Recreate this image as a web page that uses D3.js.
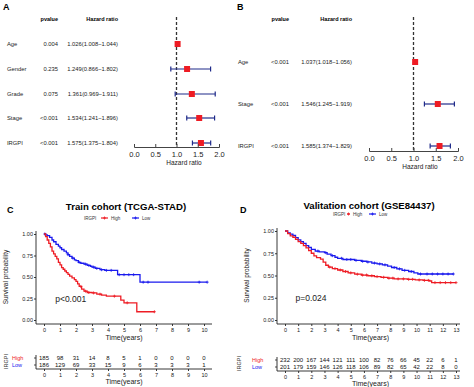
<html>
<head>
<meta charset="utf-8">
<script src="https://cdn.jsdelivr.net/npm/d3@7"></script>
<style>
  body { margin: 0; background: #fff; }
  svg text { font-family: "Liberation Sans", Arial, sans-serif; }
</style>
</head>
<body>
<svg id="chart" width="474" height="387"></svg>
<script>
// ---- forest plot data ----
var forestA_vars = ["Age", "Gender", "Grade", "Stage", "IRGPI"];
var forestA_p = ["0.004", "0.235", "0.075", "<0.001", "<0.001"];
var forestA_hr = [1.026, 1.249, 1.361, 1.534, 1.575];
var forestA_lo = [1.008, 0.866, 0.969, 1.241, 1.375];
var forestA_hi = [1.044, 1.802, 1.911, 1.896, 1.804];

var forestB_vars = ["Age", "Stage", "IRGPI"];
var forestB_p = ["<0.001", "<0.001", "<0.001"];
var forestB_hr = [1.037, 1.546, 1.585];
var forestB_lo = [1.018, 1.245, 1.374];
var forestB_hi = [1.056, 1.919, 1.829];

var forestTicks = [0, 0.5, 1, 1.5, 2];

// ---- KM data (time, survival) ----
var trainHigh = [[0,1],[0.1,0.97],[0.2,0.93],[0.3,0.89],[0.4,0.85],[0.5,0.80],[0.6,0.77],[0.7,0.74],[0.8,0.71],[0.9,0.67],[1,0.64],[1.1,0.61],[1.2,0.59],[1.3,0.57],[1.4,0.55],[1.5,0.53],[1.6,0.51],[1.75,0.49],[1.9,0.47],[2,0.45],[2.1,0.42],[2.2,0.39],[2.35,0.36],[2.5,0.335],[2.7,0.32],[3.0,0.315],[3.3,0.30],[3.6,0.29],[3.9,0.277],[4.8,0.23],[5.0,0.20],[5.8,0.096],[6.9,0.096]];
var trainLow = [[0,1],[0.1,0.99],[0.2,0.98],[0.35,0.96],[0.5,0.93],[0.6,0.91],[0.75,0.88],[0.9,0.86],[1,0.84],[1.1,0.82],[1.25,0.8],[1.4,0.78],[1.5,0.76],[1.6,0.74],[1.75,0.72],[1.9,0.70],[2,0.69],[2.15,0.67],[2.3,0.66],[2.5,0.65],[2.7,0.635],[2.9,0.625],[3.0,0.615],[3.2,0.6],[3.5,0.585],[3.8,0.577],[4.6,0.527],[6.0,0.44],[10.2,0.44]];
var trainHighCens = [2.3, 2.6, 2.8, 3.1, 3.5, 4.4, 5.2, 6.9];
var trainLowCens = [0.05, 1.5, 1.8, 2.2, 2.6, 2.8, 3.1, 3.3, 3.6, 3.9, 4.2, 4.7, 5.0, 5.3, 5.6, 6.2, 6.5, 9.7, 10.2];

var validHigh = [[0,1],[0.2,0.97],[0.4,0.945],[0.6,0.93],[0.8,0.905],[1,0.88],[1.2,0.86],[1.4,0.835],[1.6,0.81],[1.8,0.78],[2,0.75],[2.2,0.72],[2.4,0.70],[2.7,0.685],[2.9,0.65],[3.1,0.615],[3.3,0.595],[3.6,0.578],[4,0.562],[4.4,0.545],[4.8,0.53],[5.3,0.515],[5.8,0.505],[6.3,0.497],[6.8,0.488],[7.3,0.48],[7.8,0.47],[8.3,0.462],[9.3,0.457],[9.9,0.45],[10.5,0.445],[11,0.438],[11.15,0.42],[13,0.42]];
var validLow = [[0,1],[0.2,0.98],[0.4,0.965],[0.6,0.95],[0.8,0.925],[1,0.9],[1.2,0.88],[1.4,0.86],[1.6,0.835],[1.8,0.815],[2,0.794],[2.3,0.775],[2.6,0.765],[3,0.757],[3.2,0.74],[3.5,0.723],[3.8,0.705],[4,0.693],[4.4,0.68],[5.3,0.67],[5.8,0.66],[6.2,0.652],[6.6,0.64],[7,0.63],[7.4,0.62],[7.8,0.605],[8.1,0.59],[8.5,0.575],[8.9,0.558],[9.4,0.545],[9.8,0.53],[10.1,0.517],[12.8,0.517]];
var validHighCens = [3.4, 3.8, 4.2, 4.6, 5.0, 5.5, 5.9, 6.2, 6.6, 7.0, 7.5, 7.9, 8.2, 8.6, 9.0, 9.4, 9.7, 10.2, 10.6, 10.9, 11.4, 11.8, 12.2, 12.6, 13];
var validLowCens = [2.5, 3.1, 3.6, 4.3, 4.7, 5.0, 5.4, 5.9, 6.3, 6.8, 7.2, 7.6, 8.3, 8.7, 9.1, 9.6, 10.3, 10.8, 11.2, 11.6, 12.0, 12.4, 12.8];

var trainRiskHigh = [185, 98, 31, 14, 8, 5, 1, 0, 0, 0, 0];
var trainRiskLow = [186, 129, 69, 33, 15, 9, 6, 3, 3, 3, 1];
var validRiskHigh = [232, 200, 167, 144, 121, 111, 100, 82, 76, 66, 45, 22, 6, 1];
var validRiskLow = [201, 179, 159, 146, 126, 118, 106, 89, 82, 65, 42, 22, 8, 0];

var yTicks = [0, 0.25, 0.5, 0.75, 1];

var RED = "#ee1c24", BLUE = "#1a1aee", NAVY = "#1f2a8a";

var svg = d3.select("#chart");
svg.append("rect").attr("width", 474).attr("height", 387).attr("fill", "#fff");

function letter(x, y, t) {
  svg.append("text").attr("x", x).attr("y", y).attr("font-size", 9)
    .attr("font-weight", "bold").text(t);
}

// ---------- forest plot ----------
function forest(o) {
  var g = svg.append("g");
  var x = d3.scaleLinear().domain([0, 2]).range(o.xr);

  g.append("text").attr("x", o.pX).attr("y", o.headY).attr("text-anchor", "end")
    .attr("font-size", 5.5).attr("font-weight", "bold").text("pvalue");
  g.append("text").attr("x", o.hrX).attr("y", o.headY).attr("text-anchor", "end")
    .attr("font-size", 5.5).attr("font-weight", "bold").text("Hazard ratio");

  o.vars.forEach(function(v, i) {
    var y = o.rows[i];
    g.append("text").attr("x", o.labX).attr("y", y + 2).attr("font-size", 5.8)
      .attr("fill", "#222").text(v);
    g.append("text").attr("x", o.pX).attr("y", y + 2).attr("text-anchor", "end")
      .attr("font-size", 5.8).attr("fill", "#222").text(o.p[i]);
    g.append("text").attr("x", o.hrX).attr("y", y + 2).attr("text-anchor", "end")
      .attr("font-size", 5.8).attr("fill", "#222")
      .text(o.hr[i].toFixed(3) + "(" + o.lo[i].toFixed(3) + "\u2212" + o.hi[i].toFixed(3) + ")");
  });

  g.append("line").attr("x1", x(1)).attr("x2", x(1)).attr("y1", 17).attr("y2", o.axisY)
    .attr("stroke", "#333").attr("stroke-width", 1.3).attr("stroke-dasharray", "3,2");

  o.vars.forEach(function(v, i) {
    var y = o.rows[i];
    g.append("line").attr("x1", x(o.lo[i])).attr("x2", x(o.hi[i])).attr("y1", y).attr("y2", y)
      .attr("stroke", NAVY).attr("stroke-width", 1.2);
    [o.lo[i], o.hi[i]].forEach(function(e) {
      g.append("line").attr("x1", x(e)).attr("x2", x(e)).attr("y1", y - 2.5).attr("y2", y + 2.5)
        .attr("stroke", NAVY).attr("stroke-width", 1.2);
    });
    g.append("rect").attr("x", x(o.hr[i]) - 3).attr("y", y - 3).attr("width", 6).attr("height", 6)
      .attr("fill", RED);
  });

  var ax = g.append("g").attr("transform", "translate(0," + o.axisY + ")")
    .call(d3.axisTop(x).tickValues(forestTicks).tickSize(3).tickFormat(d3.format(".1f")));
  ax.select(".domain").attr("stroke", "#444");
  ax.selectAll(".tick line").attr("stroke", "#444");
  ax.selectAll("text").attr("y", 8).attr("dy", "0.32em").attr("font-size", 7.5).attr("fill", "#222");
  g.append("text").attr("x", o.titleX).attr("y", o.axisY + 18).attr("text-anchor", "middle")
    .attr("font-size", 6.5).attr("fill", "#222").text("Hazard ratio");
}

letter(3, 10, "A");
forest({ vars: forestA_vars, p: forestA_p, hr: forestA_hr, lo: forestA_lo, hi: forestA_hi,
  xr: [134, 219], rows: [44, 69, 94, 118, 143], axisY: 147, headY: 21,
  labX: 7, pX: 58, hrX: 118, titleX: 184 });

letter(237, 10, "B");
forest({ vars: forestB_vars, p: forestB_p, hr: forestB_hr, lo: forestB_lo, hi: forestB_hi,
  xr: [369, 458], rows: [62, 104, 146], axisY: 151, headY: 21,
  labX: 238, pX: 289, hrX: 352, titleX: 420 });

// ---------- Kaplan-Meier ----------
function stepAt(curve, t) {
  var s = curve[0][1];
  curve.forEach(function(d) { if (d[0] <= t) s = d[1]; });
  return s;
}

function km(o) {
  var g = svg.append("g");
  var x = d3.scaleLinear().domain([0, o.tmax]).range(o.xr);
  var y = d3.scaleLinear().domain([0, 1]).range([o.y0, o.y1]);
  var times = d3.range(0, o.tmax + 1);

  g.append("text").attr("x", o.titleX).attr("y", o.titleY).attr("text-anchor", "middle")
    .attr("font-size", 9.6).attr("font-weight", "bold").text(o.title);

  // legend
  var lg = o.legend;
  g.append("text").attr("x", lg.x).attr("y", lg.y + 1.5).attr("font-size", 4.5).attr("fill", "#333").text("IRGPI");
  [[lg.r, RED, "High"], [lg.b, BLUE, "Low"]].forEach(function(it) {
    g.append("line").attr("x1", it[0][0]).attr("x2", it[0][1]).attr("y1", lg.y).attr("y2", lg.y)
      .attr("stroke", it[1]).attr("stroke-width", 1.2);
    var cx = (it[0][0] + it[0][1]) / 2;
    g.append("path").attr("d", "M" + (cx - 1.5) + "," + lg.y + "h3M" + cx + "," + (lg.y - 1.5) + "v3")
      .attr("stroke", it[1]).attr("stroke-width", 0.8);
    g.append("text").attr("x", it[0][1] + 3).attr("y", lg.y + 1.5).attr("font-size", 4.5)
      .attr("fill", "#333").text(it[2]);
  });

  // axes
  var yax = g.append("g").attr("transform", "translate(" + o.axX + ",0)")
    .call(d3.axisLeft(y).tickValues(yTicks).tickSize(2).tickFormat(d3.format(".2f")));
  yax.select(".domain").attr("d", "M0," + (o.y1 - 3) + "V" + (o.axY));
  var xax = g.append("g").attr("transform", "translate(0," + o.axY + ")")
    .call(d3.axisBottom(x).tickValues(times).tickSize(2).tickFormat(d3.format("d")));
  xax.select(".domain").attr("d", "M" + o.axX + ",0H" + o.axEnd);
  [yax, xax].forEach(function(a) {
    a.selectAll(".domain,.tick line").attr("stroke", "#222").attr("stroke-width", 0.9);
    a.selectAll("text").attr("font-size", 5.5).attr("fill", "#222");
  });
  xax.selectAll("text").attr("y", 4);
  yax.selectAll("text").attr("x", -3);

  g.append("text").attr("x", (o.xr[0] + o.xr[1]) / 2).attr("y", o.axY + 16).attr("text-anchor", "middle")
    .attr("font-size", 7).attr("fill", "#222").text("Time(years)");
  g.append("text").attr("transform", "translate(" + o.ylabX + "," + ((o.y0 + o.y1) / 2) + ") rotate(-90)")
    .attr("text-anchor", "middle").attr("font-size", 6.5).attr("fill", "#222").text("Survival probability");

  var line = d3.line().x(function(d) { return x(d[0]); }).y(function(d) { return y(d[1]); })
    .curve(d3.curveStepAfter);
  [[o.low, o.lowC, BLUE], [o.high, o.highC, RED]].forEach(function(c) {
    g.append("path").datum(c[0]).attr("d", line).attr("fill", "none")
      .attr("stroke", c[2]).attr("stroke-width", 1.3);
    g.selectAll(null).data(c[1]).enter().append("path")
      .attr("d", function(t) {
        var px = x(t), py = y(stepAt(c[0], t));
        return "M" + (px - 1.5) + "," + py + "h3M" + px + "," + (py - 1.5) + "v3";
      })
      .attr("stroke", c[2]).attr("stroke-width", 0.8);
  });

  g.append("text").attr("x", x(o.pT)).attr("y", y(0.25) + 3).attr("font-size", 8.5)
    .attr("fill", "#222").text(o.pText);

  // risk table
  var rt = o.risk;
  g.append("text").attr("transform", "translate(" + rt.labX + "," + ((rt.hy + rt.ly) / 2) + ") rotate(-90)")
    .attr("text-anchor", "middle").attr("font-size", 5.5).attr("fill", "#333").text("IRGPI");
  g.append("text").attr("x", rt.nameX).attr("y", rt.hy + 2).attr("font-size", 5.5).attr("fill", RED).text("High");
  g.append("text").attr("x", rt.nameX).attr("y", rt.ly + 2).attr("font-size", 5.5).attr("fill", BLUE).text("Low");
  [[o.riskHigh, rt.hy], [o.riskLow, rt.ly]].forEach(function(r) {
    g.selectAll(null).data(r[0]).enter().append("text")
      .attr("x", function(d, i) { return x(times[i]); }).attr("y", r[1] + 2)
      .attr("text-anchor", "middle").attr("font-size", 6).attr("fill", "#111")
      .text(function(d) { return d; });
  });
  g.append("path").attr("d", "M" + (o.axX - 2) + "," + (rt.hy) + "H" + o.axX + "M" + (o.axX - 2) + "," + rt.ly + "H" + o.axX)
    .attr("stroke", "#222").attr("stroke-width", 0.8);
  var rax = g.append("g").attr("transform", "translate(0," + rt.axY + ")")
    .call(d3.axisBottom(x).tickValues(times).tickSize(2).tickFormat(d3.format("d")));
  rax.select(".domain").attr("d", "M" + o.axX + "," + (rt.hy - rt.axY - 3) + "V0H" + o.axEnd);
  rax.selectAll(".domain,.tick line").attr("stroke", "#222").attr("stroke-width", 0.9);
  rax.selectAll("text").attr("font-size", 5.5).attr("fill", "#222").attr("y", 4);
  g.append("text").attr("x", (o.xr[0] + o.xr[1]) / 2).attr("y", rt.axY + 15).attr("text-anchor", "middle")
    .attr("font-size", 7).attr("fill", "#222").text("Time(years)");
}

letter(7, 213, "C");
km({ title: "Train cohort (TCGA-STAD)", titleX: 126, titleY: 210, tmax: 10,
  xr: [44, 204], y0: 320, y1: 234, axX: 36, axY: 324, axEnd: 212, ylabX: 8,
  legend: { x: 84, y: 218, r: [101, 108], b: [132, 139] },
  high: trainHigh, low: trainLow, highC: trainHighCens, lowC: trainLowCens,
  pT: 0.7, pText: "p<0.001",
  riskHigh: trainRiskHigh, riskLow: trainRiskLow,
  risk: { hy: 358, ly: 365, axY: 369, labX: 8, nameX: 12 } });

letter(240, 213, "D");
km({ title: "Valitation cohort (GSE84437)", titleX: 369, titleY: 209, tmax: 13,
  xr: [285, 456], y0: 320, y1: 231, axX: 277, axY: 324, axEnd: 460, ylabX: 249,
  legend: { x: 333, y: 214, r: [347, 350], b: [369, 376] },
  high: validHigh, low: validLow, highC: validHighCens, lowC: validLowCens,
  pT: 0.8, pText: "p=0.024",
  riskHigh: validRiskHigh, riskLow: validRiskLow,
  risk: { hy: 360, ly: 367, axY: 371, labX: 241, nameX: 252 } });
</script>
</body>
</html>
